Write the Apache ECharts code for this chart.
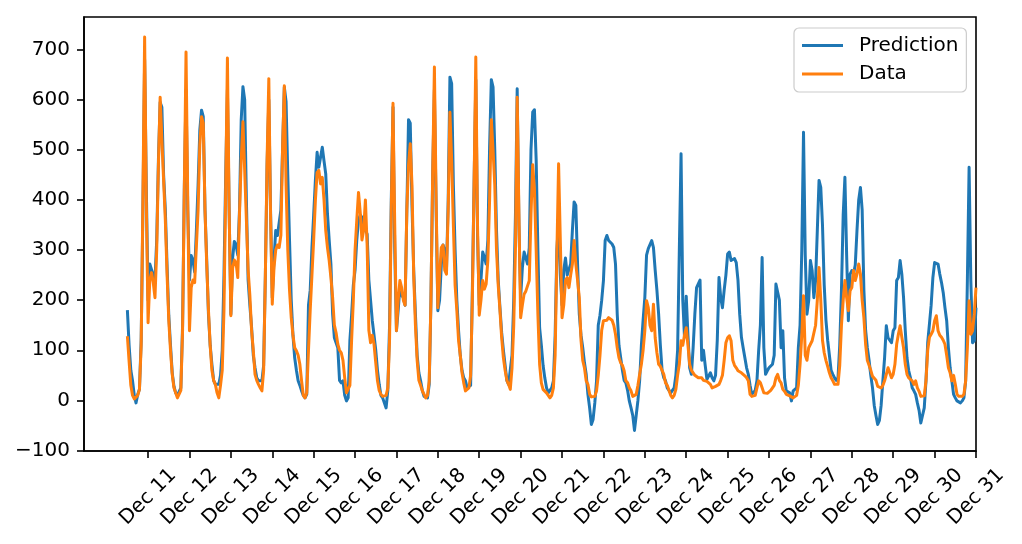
<!DOCTYPE html>
<html><head><meta charset="utf-8">
<script src="https://cdn.jsdelivr.net/npm/echarts@6/dist/echarts.min.js"></script>
<style>html,body{margin:0;padding:0;background:#fff}#c{width:1022px;height:544px}</style>
</head><body><div id="c"></div><script>
const tickIndex = [12, 36, 60, 84, 108, 132, 156, 180, 204, 228, 252, 276, 300, 324, 348, 372, 396, 420, 444, 468, 492];
const tickLabels = ['Dec 11','Dec 12','Dec 13','Dec 14','Dec 15','Dec 16','Dec 17','Dec 18','Dec 19','Dec 20','Dec 21','Dec 22','Dec 23','Dec 24','Dec 25','Dec 26','Dec 27','Dec 28','Dec 29','Dec 30','Dec 31'];
const yTicks = [-100, 0, 100, 200, 300, 400, 500, 600, 700];

// hourly model predictions
const prediction = [
  180, 110,
  60, 39, 10, -5, 12, 22, 120, 380, 680, 420, 200, 272, 270, 250, 240, 320, 480, 595, 585, 450, 380, 270, 170, 110,
  55, 28, 15, 10, 12, 25, 150, 420, 620, 380, 240, 289, 280, 256, 339, 430, 540, 579, 566, 380, 280, 172, 110, 72,
  40, 32, 32, 32, 50, 100, 250, 450, 620, 380, 172, 284, 317, 310, 290, 380, 560, 626, 600, 400, 240, 190, 146, 90,
  65, 45, 39, 39, 39, 70, 250, 470, 600, 380, 205, 280, 339, 329, 332, 380, 505, 625, 596, 450, 320, 200, 130, 85,
  60, 39, 30, 19, 10, 5, 12, 190, 220, 305, 370, 439, 495, 465, 485, 505, 478, 452, 372, 320, 272, 172, 125, 115,
  105, 40, 35, 39, 10, -1, 5, 120, 170, 230, 260, 320, 360, 370, 365, 350, 340, 332, 240, 239, 159, 130, 100, 60,
  32, 10, 5, 3, -15, 20, 150, 400, 585, 300, 139, 180, 225, 210, 205, 190, 190, 560, 553, 390, 260, 172, 90, 55,
  39, 20, 8, 5, 5, 32, 200, 450, 620, 380, 179, 200, 270, 310, 300, 260, 400, 645, 632, 430, 300, 200, 140, 90,
  60, 45, 39, 25, 25, 30, 220, 430, 640, 330, 190, 240, 296, 285, 272, 320, 505, 640, 625, 500, 340, 240, 185, 135,
  100, 70, 40, 32, 32, 90, 200, 372, 622, 350, 205, 265, 296, 285, 272, 305, 500, 575, 580, 480, 300, 145, 110, 70,
  45, 25, 15, 12, 25, 39, 130, 300, 360, 250, 190, 260, 284, 250, 250, 272, 339, 396, 389, 272, 172, 130, 105, 75,
  52, 12, -15, -48, -38, -5, 39, 150, 170, 200, 239, 319, 329, 319, 319, 312, 305, 272, 172, 110, 85, 60, 40,
  35, 20, -1, -15, -30, -60, -30, 0, 40, 110, 160, 205, 290, 303, 305, 319, 305, 260, 220, 172, 110, 60, 45, 39,
  25, 20, 15, 15, 25, 50, 100, 300, 492, 200, 126, 208, 130, 65, 52, 105, 172, 225, 228, 240, 80, 100, 70, 42,
  42, 55, 45, 39, 50, 120, 245, 205, 185, 220, 250, 292, 296, 279, 279, 283, 275, 240, 172, 126, 105, 85, 65, 52,
  30, 12, 9, 20, 39, 100, 150, 285, 105, 52, 59, 65, 62, 72, 90, 232, 232, 200, 105, 139, 45, 19, 17, 15,
  -1, 19, 20, 25, 105, 150, 300, 535, 290, 172, 199, 279, 259, 205, 239, 339, 439, 425, 350, 230, 160, 120, 90, 60,
  52, 45, 40, 45, 110, 220, 370, 445, 290, 159, 252, 259, 252, 270, 339, 400, 425, 380, 220, 140, 105, 80, 50, 25,
  -10, -30, -48, -40, -10, 39, 85, 149, 125, 125, 115, 139, 145, 239, 245, 279, 252, 205, 139, 85, 59, 45, 25, 19,
  12, -5, -20, -45, -42, -15, 39, 115, 152, 190, 245, 275, 274, 272, 252, 235, 215, 185, 159, 105, 65, 39, 12, 5,
  -1, -3, -5, -1, 5, 39, 239, 465, 239, 115, 119, 185
];

const actual = [
  128, 78,
  30, 10, 3, 4, 10, 22, 110, 400, 725, 390, 155, 240, 255, 235, 205, 300, 470, 605, 520, 440, 360, 252, 160, 100,
  52, 25, 15, 5, 5, 20, 140, 420, 695, 400, 139, 225, 240, 235, 232, 380, 510, 566, 553, 380, 270, 180, 110, 60,
  40, 32, 15, 5, 30, 60, 180, 420, 683, 380, 169, 264, 280, 275, 245, 372, 480, 556, 460, 360, 260, 210, 140, 100,
  52, 40, 32, 25, 19, 60, 250, 480, 642, 372, 192, 265, 300, 310, 305, 330, 505, 628, 430, 300, 220, 165, 130, 105,
  99, 90, 72, 39, 10, 5, 15, 100, 180, 250, 320, 399, 455, 459, 432, 445, 400, 339, 305, 279, 245, 205, 150, 135,
  112, 100, 95, 80, 45, 15, 15, 30, 120, 200, 300, 360, 415, 375, 320, 340, 400, 310, 140, 115, 130, 112, 75, 39,
  20, 12, 8, 5, 10, 25, 120, 380, 593, 350, 139, 200, 239, 225, 200, 190, 380, 470, 512, 430, 250, 150, 80, 40,
  30, 19, 12, 5, 10, 39, 200, 450, 665, 400, 185, 250, 305, 310, 260, 252, 380, 575, 480, 350, 230, 180, 120, 90,
  55, 35, 19, 18, 25, 50, 200, 430, 685, 350, 170, 200, 239, 222, 232, 280, 400, 560, 500, 430, 300, 230, 180, 125,
  85, 60, 40, 32, 22, 65, 150, 305, 605, 372, 165, 190, 212, 218, 219, 239, 372, 470, 420, 300, 172, 72, 35, 22,
  19, 15, 12, 5, 10, 25, 90, 290, 472, 320, 165, 190, 239, 245, 225, 250, 272, 319, 272, 240, 205, 120, 80, 65,
  39, 32, 12, 7, 5, 8, 19, 50, 90, 140, 159, 159, 160, 165, 165, 160, 150, 132, 105, 85, 75, 70, 59,
  39, 35, 25, 19, 8, 5, 12, 30, 52, 72, 100, 139, 199, 185, 150, 139, 192, 125, 95, 72, 68, 65, 52, 35,
  30, 20, 10, 5, 10, 22, 50, 72, 119, 110, 130, 145, 110, 72, 60, 55, 50, 49, 45, 42, 45, 40, 39, 38,
  35, 32, 25, 22, 28, 30, 32, 40, 50, 80, 115, 125, 129, 119, 80, 70, 65, 59, 57, 55, 52, 49, 45, 39,
  12, 8, 5, 10, 25, 39, 35, 25, 15, 12, 14, 16, 20, 19, 30, 45, 52, 40, 35, 22, 18, 12, 10, 9,
  7, 5, 2, 10, 30, 72, 130, 209, 90, 80, 105, 112, 119, 119, 150, 200, 265, 200, 120, 95, 80, 68, 55, 45,
  39, 32, 29, 32, 70, 150, 200, 239, 205, 179, 219, 225, 259, 239, 252, 272, 252, 200, 165, 112, 80, 70, 60, 48,
  50, 40, 28, 25, 25, 30, 39, 52, 65, 62, 45, 52, 72, 112, 132, 149, 126, 105, 72, 52, 45, 42, 39, 32,
  39, 25, 18, 8, 5, 9, 39, 100, 126, 132, 139, 159, 169, 139, 130, 126, 120, 112, 90, 65, 55, 39, 50, 32,
  12, 8, 5, 8, 12, 39, 105, 199, 132, 139, 172, 225
];

const chart = echarts.init(document.getElementById('c'), null, {renderer: 'canvas'});
const toPairs = arr => arr.map((v, i) => [i, v]);
const font = 'DejaVu Sans';
chart.setOption({
  animation: false,
  color: ['#1f77b4', '#ff7f0e'],
  textStyle: {fontFamily: font},
  grid: {left: 84, right: 46, top: 17, bottom: 93, show: true, borderColor: '#000', borderWidth: 1.6, backgroundColor: 'transparent'},
  legend: {
    orient: 'vertical', left: 794, top: 28, padding: [7.5, 8, 8, 8], itemGap: 8.5,
    itemWidth: 41, itemHeight: 3, icon: 'rect',
    backgroundColor: 'rgba(255,255,255,0.8)', borderColor: '#cccccc', borderWidth: 1.2, borderRadius: 5,
    textStyle: {fontSize: 20, color: '#000', fontFamily: font, padding: [0, 0, 0, 11]},
    data: ['Prediction', 'Data']
  },
  xAxis: {
    type: 'value', min: -25.15, max: 492,
    splitLine: {show: false},
    axisLine: {onZero: false, lineStyle: {color: '#000', width: 1.6}},
    axisTick: {customValues: tickIndex, length: 7, lineStyle: {color: '#000', width: 1.6}},
    axisLabel: {
      customValues: tickIndex,
      formatter: v => tickLabels[tickIndex.indexOf(v)],
      rotate: 45, align: 'center', verticalAlign: 'middle', margin: 46,
      fontSize: 20, color: '#000', fontFamily: font
    }
  },
  yAxis: {
    type: 'value', min: -101, max: 765,
    splitLine: {show: false},
    axisLine: {show: true, onZero: false, lineStyle: {color: '#000', width: 1.6}},
    axisTick: {show: true, customValues: yTicks, length: 7, lineStyle: {color: '#000', width: 1.6}},
    axisLabel: {
      customValues: yTicks,
      formatter: v => (v < 0 ? '\u2212' + (-v) : String(v)),
      margin: 14, fontSize: 20, color: '#000', fontFamily: font
    }
  },
  series: [
    {name: 'Prediction', type: 'line', data: toPairs(prediction), showSymbol: false, symbol: 'none',
     lineStyle: {width: 3, join: 'round'}, z: 2},
    {name: 'Data', type: 'line', data: toPairs(actual), showSymbol: false, symbol: 'none',
     lineStyle: {width: 3, join: 'round'}, z: 3}
  ]
});
</script></body></html>
